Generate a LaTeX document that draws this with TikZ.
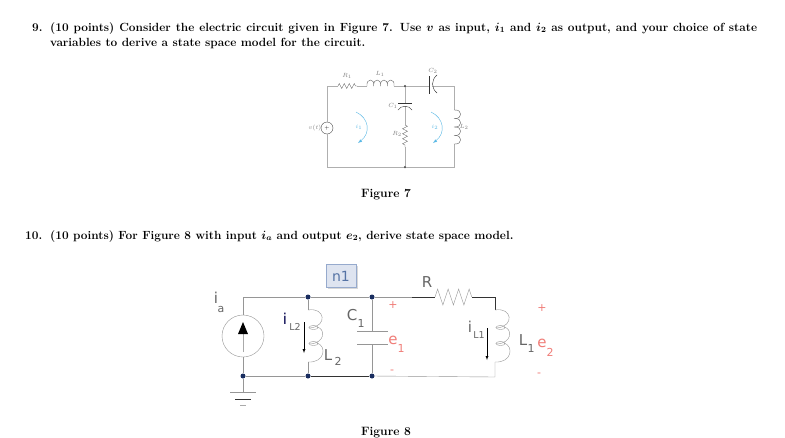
\documentclass[tikz,border=0pt]{standalone}
\usepackage{amsmath}
\usepackage{fontspec}
\usetikzlibrary{decorations.pathmorphing,shadows}
\newfontfamily\schemfont{DejaVu Sans}
\definecolor{wire}{RGB}{150,150,150}
\definecolor{wirea}{RGB}{175,175,175}
\definecolor{faint}{RGB}{170,170,170}
\definecolor{dotblue}{RGB}{25,45,95}
\definecolor{loopblue}{RGB}{90,185,230}
\definecolor{volt}{RGB}{240,125,120}
\definecolor{tagfill}{RGB}{222,228,240}
\definecolor{tagline}{RGB}{150,170,205}
\definecolor{tagtext}{RGB}{85,115,165}

\begin{document}
\begin{tikzpicture}[x=1pt,y=-1pt]
		\tikzstyle{statement}=[anchor=base west,inner sep=0,font=\fontsize{11.85}{14}\bfseries\boldmath]
		\tikzstyle{caption}=[anchor=base,inner sep=0,font=\fontsize{12.1}{14}\bfseries]
		\tikzstyle{small}=[inner sep=0,text=gray,font=\fontsize{6}{7}\itshape]
		\tikzstyle{big}=[inner sep=0,text=black!60,font=\schemfont\fontsize{15}{17}\selectfont]
		\tikzstyle{sub}=[inner sep=0,text=black!60,font=\schemfont\fontsize{11}{12}\selectfont]
		\tikzstyle{subb}=[inner sep=0,text=black!60,font=\schemfont\fontsize{9.5}{10}\selectfont]
		\tikzstyle{volts}=[inner sep=0,text=volt,font=\schemfont\fontsize{15}{17}\selectfont]
		\tikzstyle{junction}=[circle,fill=dotblue,minimum size=5pt,inner sep=0]
		\tikzstyle{tinydot}=[circle,fill=black!70,minimum size=2.5pt,inner sep=0]
		\tikzstyle{res}=[decorate,decoration={zigzag,amplitude=2.5pt,segment length=5pt}]
		\tikzstyle{bigres}=[decorate,decoration={zigzag,amplitude=8pt,segment length=10.5pt}]
		\useasboundingbox (0,0) rectangle (785,437);
		\fill[white] (0,0) rectangle (785,437);

		% statements
		\node[statement] (numa) at (32,31) {9.};
		\node[statement] (linea) at (50,31) {\makebox[707pt][s]{(10 points) Consider the electric circuit given in Figure 7. Use $v$ as input, $i_1$ and $i_2$ as output, and your choice of state}};
		\node[statement] (lineb) at (50,46) {variables to derive a state space model for the circuit.};
		\node[statement] (numb) at (25,239) {10.};
		\node[statement] (linec) at (50,239) {(10 points) For Figure 8 with input $i_a$ and output $e_2$, derive state space model.};
		\node[caption] (figa) at (386,197) {Figure 7};
		\node[caption] (figb) at (386,435) {Figure 8};

		% figure 7
		\node[circle,draw=black!70,minimum size=12pt,inner sep=0,font=\fontsize{5}{5}\selectfont] (va) at (327,128) {+};
		\coordinate (tla) at (327,86);
		\coordinate (bla) at (327,167);
		\coordinate (tra) at (454,86);
		\coordinate (bra) at (454,167);
		\node[tinydot] (topa) at (405,86) {};
		\node[tinydot] (bota) at (405,167) {};
		\coordinate (raa) at (338,86);
		\coordinate (rab) at (357,86);
		\coordinate (laa) at (367,86);
		\coordinate (lab) at (394,86);
		\coordinate (cba) at (429,86);
		\coordinate (cbb) at (432,86);
		\coordinate (caa) at (405,103);
		\coordinate (cab) at (405,106);
		\coordinate (rba) at (405,125);
		\coordinate (rbb) at (405,147);
		\coordinate (lba) at (454,110);
		\coordinate (lbb) at (454,144);
		\draw[wirea] (va) -- (tla) -- (raa) (rab) -- (laa) (lab) -- (topa) -- (cba);
		\draw[wirea] (cbb) -- (tra) -- (lba) (lbb) -- (bra) -- (bota) -- (bla) -- (va);
		\draw[wirea] (topa) -- (caa) (cab) -- (rba) (rbb) -- (bota);
		\draw[black!60,res] (raa) -- (rab);
		\draw[black!60,res] (rba) -- (rbb);
		\foreach \k in {0,...,3} {
			\draw[black!60] (367+6.75*\k,86) .. controls (366+6.75*\k,78) and (375+6.75*\k,78) .. (373.75+6.75*\k,86);
			\draw[black!60] (454,110+8.5*\k) .. controls (463,109+8.5*\k) and (463,119.5+8.5*\k) .. (454,118.5+8.5*\k);
		}
		\draw[black!80] (398,103) -- (412,103);
		\draw[black!80] (398,110) .. controls (401,105) and (409,105) .. (412,110);
		\draw[black!80] (429,76) -- (429,94);
		\draw[black!80] (437,75) .. controls (431,80) and (431,88) .. (437,93);
		\draw[loopblue,-latex] (356,112) .. controls (369,118) and (371,133) .. (358,143);
		\draw[loopblue,-latex] (431,112) .. controls (444,118) and (446,133) .. (433,143);
		\node[small] (lra) at (347,76) {$R_1$};
		\node[small] (lla) at (380,74) {$L_1$};
		\node[small] (lcb) at (433,71) {$C_2$};
		\node[small] (lca) at (393,106) {$C_1$};
		\node[small] (lrb) at (397,134) {$R_2$};
		\node[small] (llb) at (464,127) {$L_2$};
		\node[small] (lv) at (315,128) {$v(t)$};
		\node[small,text=loopblue] (lia) at (359,127) {$i_1$};
		\node[small,text=loopblue] (lib) at (435,127) {$i_2$};

		% figure 8
		\node[circle,draw=wire,minimum size=42pt,inner sep=0] (ia) at (243,336) {};
		\node[junction] (tlb) at (308,297) {};
		\node[junction] (tcb) at (372,297) {};
		\node[junction] (blb) at (243,376) {};
		\node[junction] (bmb) at (308,376) {};
		\node[junction] (bcb) at (372,376) {};
		\coordinate (tab) at (243,297);
		\coordinate (trb) at (495,297);
		\coordinate (brb) at (495,377);
		\coordinate (rca) at (435,297);
		\coordinate (rcb) at (472,297);
		\coordinate (pla) at (372,331);
		\coordinate (plb) at (372,344);
		\coordinate (gnd) at (243,392);
		\draw[wire] (ia) -- (tab) -- (tlb) -- (tcb) -- (rca);
		\draw[black!80] (412,297) -- (rca) (rcb) -- (trb) -- (495,310);
		\draw[wire] (495,362) -- (brb) -- (bcb);
		\draw[wire] (ia) -- (blb) -- (bmb);
		\draw[black!80] (bmb) -- (bcb);
		\draw[wire] (blb) -- (gnd);
		\draw[wire] (tlb) -- (308,310) (bmb) -- (308,362);
		\draw[wire] (tcb) -- (pla) (plb) -- (bcb);
		\draw[wire,bigres] (rca) -- (rcb);
		\foreach \cx in {308,495} {
			\draw[wire] (\cx,310) .. controls (\cx+17,307) and (\cx+20,326) .. (\cx+2,328);
			\draw[wire] (\cx+9,327) .. controls (\cx+18,329) and (\cx+17,343) .. (\cx+2,344);
			\draw[wire] (\cx+9,343) .. controls (\cx+19,346) and (\cx+17,363) .. (\cx,362);
			\draw[wire] (\cx+5.5,327.5) ellipse (4.5 and 2);
			\draw[wire] (\cx+5.5,343.5) ellipse (4.5 and 2);
		}
		\draw[wire,line width=0.8pt] (357,331) -- (388,331);
		\draw[wire,line width=0.8pt] (357,344) -- (388,344);
		\draw[wire] (230,392) -- (256,392);
		\draw[black!80,line width=0.9pt] (235,399) -- (251,399);
		\draw[faint] (240,405) -- (246,405);
		\draw[faint] (243,352) -- (243,334);
		\fill[black] (243,322) -- (248,334) -- (238,334) -- cycle;
		\draw[black,-latex] (304,322) -- (304,353);
		\draw[black,-latex] (487,328) -- (487,360);
		\node[draw=tagline,fill=tagfill,drop shadow={shadow xshift=1.5pt,shadow yshift=-1.5pt,fill=black!30},text=tagtext,minimum width=30pt,minimum height=23pt,inner sep=0,font=\schemfont\fontsize{14}{16}\selectfont] (tag) at (341,276) {n1};
		\node[big] (lia) at (216,298) {i};
		\node[sub] (lias) at (221,309) {a};
		\node[big] (lcq) at (352,315) {C};
		\node[sub] (lcqs) at (361,323) {1};
		\node[big] (llt) at (328,355) {L};
		\node[sub] (llts) at (338,361) {2};
		\node[big,text=black!70!blue] (lit) at (285,319) {i};
		\node[subb] (lits) at (295,327) {L2};
		\node[big] (lio) at (470,327) {i};
		\node[subb] (lios) at (479,335) {L1};
		\node[big] (lr) at (427,282) {R};
		\node[big] (llo) at (523,340) {L};
		\node[sub] (llos) at (531,348) {1};
		\node[volts] (lea) at (393,340) {e};
		\node[sub,text=volt] (leas) at (401,348) {1};
		\node[volts] (leb) at (542,343) {e};
		\node[sub,text=volt] (lebs) at (550,352) {2};
		\node[sub,text=volt] (pa) at (393,305) {+};
		\node[sub,text=volt] (ma) at (392,372) {-};
		\node[sub,text=volt] (pb) at (542,308) {+};
		\node[sub,text=volt] (mb) at (539,375) {-};
	\end{tikzpicture}
\end{document}
